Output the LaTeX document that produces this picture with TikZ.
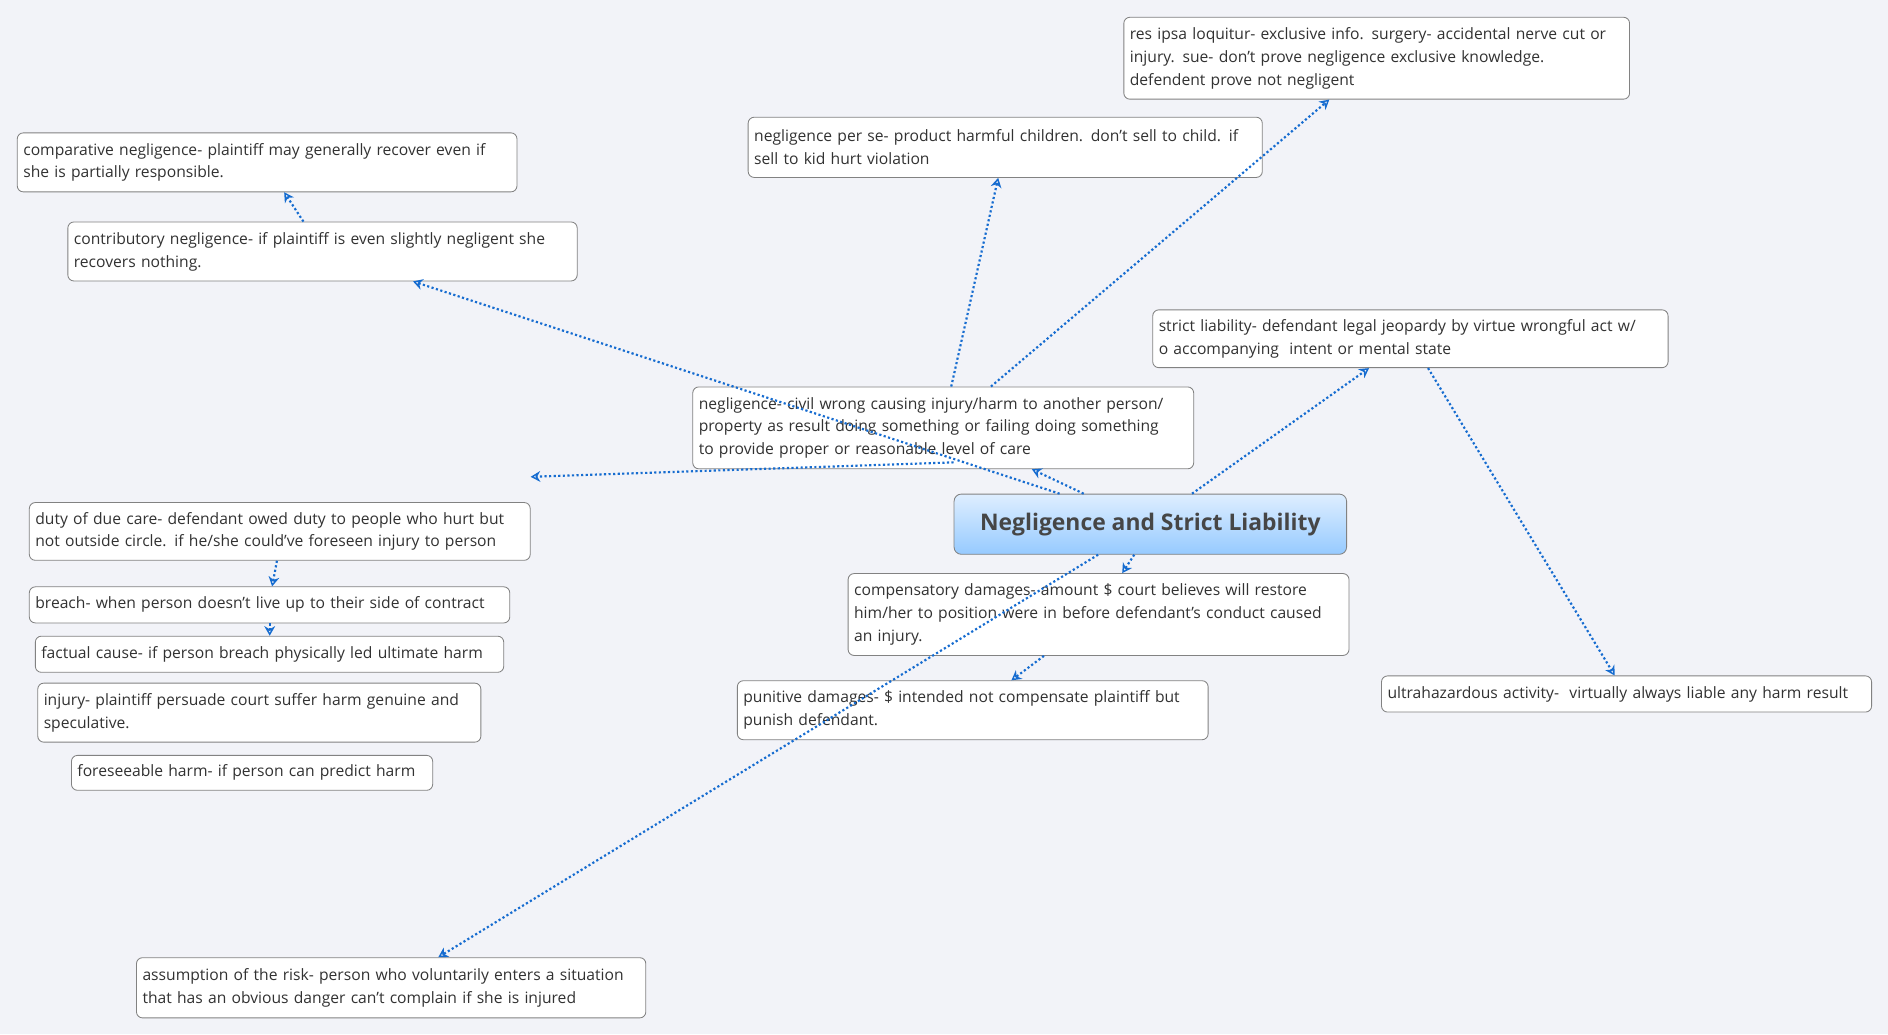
\documentclass[tikz,border=0pt]{standalone}
\usepackage{fontspec}
\setmainfont{Open Sans}
\usetikzlibrary{arrows.meta,calc}
\definecolor{bg}{RGB}{242,243,248}
\definecolor{lnk}{RGB}{22,108,208}
\definecolor{txt}{RGB}{50,50,50}
\definecolor{bord}{RGB}{130,130,130}
\tikzset{
 box/.style={draw=bord,fill=white,rounded corners=5pt,anchor=north west,align=left,inner xsep=5pt,inner ysep=4pt,font=\fontsize{13pt}{19pt}\selectfont,text=txt,line width=0.7pt},
 conn/.style={draw=lnk,line width=1.8pt,dotted,-{Stealth[open,length=8pt,width=9pt,line width=1.2pt,sep=0pt]}},
}
\begin{document}
\begin{tikzpicture}[x=1pt,y=-1pt]
\fill[bg] (0,0) rectangle (1568,859);
\useasboundingbox (0,0) rectangle (1568,859);
\newcommand{\bx}[6]{\node[box,minimum width=#4-#2,minimum height=#5-#3,text width=#4-#2-10] (#1) at (#2,#3) {#6};}
\bx{res}{933}{14}{1353}{82}{res ipsa loquitur- exclusive info. surgery- accidental nerve cut or\\injury. sue- don't prove negligence exclusive knowledge.\\defendent prove not negligent}
\bx{perse}{621}{97}{1048}{147}{negligence per se- product harmful children. don't sell to child. if\\sell to kid hurt violation}
\bx{comp}{14}{110}{429}{159}{comparative negligence- plaintiff may generally recover even if\\she is partially responsible.}
\bx{contr}{56}{184}{479}{233}{contributory negligence- if plaintiff is even slightly negligent she\\recovers nothing.}
\bx{strict}{957}{257}{1385}{305}{strict liability- defendant legal jeopardy by virtue wrongful act w/\\o accompanying\ \ intent or mental state}
\bx{negl}{575}{321}{991}{389}{negligence- civil wrong causing injury/harm to another person/\\property as result doing something or failing doing something\\to provide proper or reasonable level of care}
\bx{duty}{24}{417}{440}{465}{duty of due care- defendant owed duty to people who hurt but\\not outside circle. if he/she could've foreseen injury to person}
\bx{breach}{24}{487}{423}{517}{breach- when person doesn't live up to their side of contract}
\bx{fact}{29}{528}{418}{558}{factual cause- if person breach physically led ultimate harm}
\bx{inj}{31}{567}{399}{616}{injury- plaintiff persuade court suffer harm genuine and\\speculative.}
\bx{fore}{59}{627}{359}{656}{foreseeable harm- if person can predict harm}
\bx{compd}{704}{476}{1120}{544}{compensatory damages- amount \$ court believes will restore\\him/her to position were in before defendant's conduct caused\\ an injury.}
\bx{pun}{612}{565}{1003}{614}{punitive damages- \$ intended not compensate plaintiff but\\ punish defendant.}
\bx{ultra}{1147}{561}{1554}{591}{ultrahazardous activity-\ \ virtually always liable any harm result}
\bx{ass}{113}{795}{536}{845}{assumption of the risk- person who voluntarily enters a situation\\that has an obvious danger can't complain if she is injured}
\node[draw=bord,rounded corners=6pt,anchor=north west,minimum width=326,minimum height=50,top color={rgb,255:red,222;green,238;blue,255},bottom color={rgb,255:red,150;green,202;blue,255},font=\fontsize{19pt}{22pt}\selectfont\bfseries,text={rgb,255:red,70;green,70;blue,70},line width=0.7pt] (c) at (792,410) {Negligence and Strict Liability};
% connectors
\draw[conn] ([xshift=108]c.north west) -- ([xshift=282]negl.south west);
\draw[conn] ([xshift=215]negl.north west) -- ([xshift=208]perse.south west);
\draw[conn] ([xshift=248]negl.north west) -- ([xshift=171]res.south west);
\draw[conn] ([xshift=88]c.north west) -- ([xshift=287]contr.south west);
\draw[conn] ([xshift=196]contr.north west) -- ([xshift=222]comp.south west);
\draw[conn] ([yshift=26]c.north west) -- ([yshift=21]duty.north east);
\draw[conn] ([xshift=206]duty.south west) -- ([xshift=202]breach.north west);
\draw[conn] ([xshift=200]breach.south west) -- ([xshift=195]fact.north west);
\draw[conn] ([xshift=150]c.south west) -- ([xshift=228]compd.north west);
\draw[conn] ([xshift=163]compd.south west) -- ([xshift=228]pun.north west);
\draw[conn] ([xshift=120]c.south west) -- ([xshift=251]ass.north west);
\draw[conn] ([xshift=198]c.north west) -- ([xshift=180]strict.south west);
\draw[conn] ([xshift=229]strict.south west) -- ([xshift=194]ultra.north west);
\end{tikzpicture}
\end{document}
